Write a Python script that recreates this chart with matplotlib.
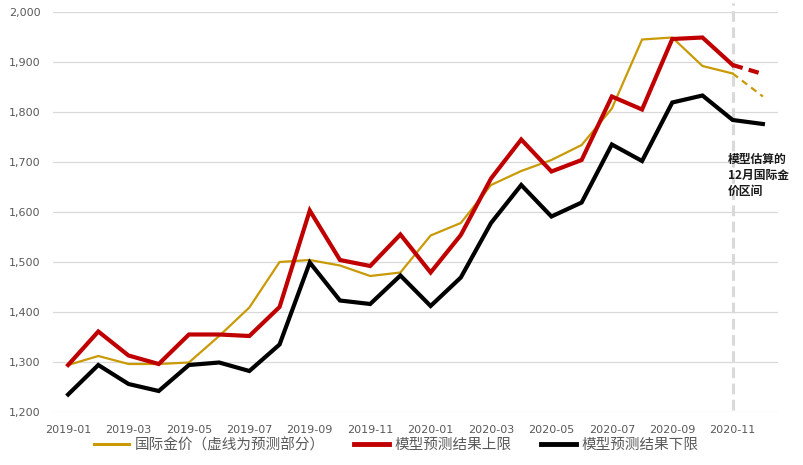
import matplotlib
matplotlib.use("Agg")
import matplotlib.pyplot as plt
import numpy as np

plt.rcParams['font.family'] = ['DejaVu Sans', 'Noto Sans CJK SC']

months = ["2019-01", "2019-02", "2019-03", "2019-04", "2019-05", "2019-06",
          "2019-07", "2019-08", "2019-09", "2019-10", "2019-11", "2019-12",
          "2020-01", "2020-02", "2020-03", "2020-04", "2020-05", "2020-06",
          "2020-07", "2020-08", "2020-09", "2020-10", "2020-11", "2020-12"]
gold = [1294, 1312, 1296, 1296, 1299, 1352, 1409, 1500, 1504, 1493, 1472, 1479,
        1553, 1578, 1654, 1682, 1704, 1734, 1807, 1945, 1949, 1892, 1877, 1831]
upper = [1294, 1361, 1313, 1296, 1355, 1355, 1352, 1410, 1603, 1504, 1492, 1555,
         1479, 1554, 1667, 1745, 1681, 1704, 1831, 1805, 1946, 1949, 1894, 1876]
lower = [1235, 1294, 1256, 1242, 1294, 1299, 1282, 1335, 1499, 1423, 1416, 1473,
         1412, 1469, 1578, 1654, 1591, 1619, 1735, 1702, 1819, 1833, 1784, 1776]
forecast_start = 22  # index of last actual point (2020-11)

legend_labels = ["国际金价（虚线为预测部分）", "模型预测结果上限", "模型预测结果下限"]
annot_text = "模型估算的\n12月国际金\n价区间"

c_gold = "#C99A06"
c_red = "#C00000"
c_black = "#000000"
c_grid = "#D9D9D9"
c_text = "#595959"

fig = plt.figure(figsize=(8.04, 4.65), dpi=100)
ax = fig.add_axes([53/804, 1-412/465, (778-53)/804, 400/465])

x = np.arange(len(months))
s = forecast_start
ax.plot(x[:s+1], gold[:s+1], color=c_gold, lw=1.6, solid_joinstyle='miter', zorder=3)
ax.plot(x[s:], gold[s:], color=c_gold, lw=1.6, dashes=(3, 2.2), zorder=3)
ax.plot(x[:s+1], upper[:s+1], color=c_red, lw=3, solid_joinstyle='miter', zorder=4)
ax.plot(x[s:], upper[s:], color=c_red, lw=3, dashes=(2.5, 1.5), zorder=4)
ax.plot(x, lower, color=c_black, lw=3, solid_joinstyle='miter', zorder=4)

ax.axvline(s, ymin=0.005, ymax=1.0225, color=c_grid, lw=2.2, dashes=(3.5, 1.8),
           clip_on=False, zorder=2)

ax.set_xlim(-0.5, len(months) - 0.5)
ax.set_ylim(1200, 2000)
ax.set_yticks(np.arange(1200, 2001, 100))
ax.yaxis.set_major_formatter(matplotlib.ticker.FuncFormatter(lambda v, p: f"{int(v):,}"))
ax.set_xticks(x[::2])
ax.set_xticklabels(months[::2])
ax.grid(axis='y', color=c_grid, lw=0.9)
ax.set_axisbelow(True)
for sp in ax.spines.values():
    sp.set_visible(False)
ax.tick_params(axis='both', length=0, labelsize=8, labelcolor=c_text)
ax.tick_params(axis='y', pad=9)
ax.tick_params(axis='x', pad=9)

ax.text(s - 0.17, 1718, annot_text, fontsize=8.5, fontweight='bold', color="#1a1a1a",
        family=['Noto Sans CJK SC'], va='top', ha='left', linespacing=1.3, zorder=5)

from matplotlib.lines import Line2D
handles = [Line2D([], [], color=c_gold, lw=2.2),
           Line2D([], [], color=c_red, lw=3.5),
           Line2D([], [], color=c_black, lw=3.5)]
leg = fig.legend(handles, legend_labels, loc='center', bbox_to_anchor=(396/804, 1-445/465),
                 ncol=3, frameon=False, handlelength=2.4, handletextpad=0.4,
                 columnspacing=2.0, prop={'family': ['Noto Sans CJK SC'], 'size': 10.5})
for t in leg.get_texts():
    t.set_color(c_text)

fig.savefig("out.png", dpi=100)
